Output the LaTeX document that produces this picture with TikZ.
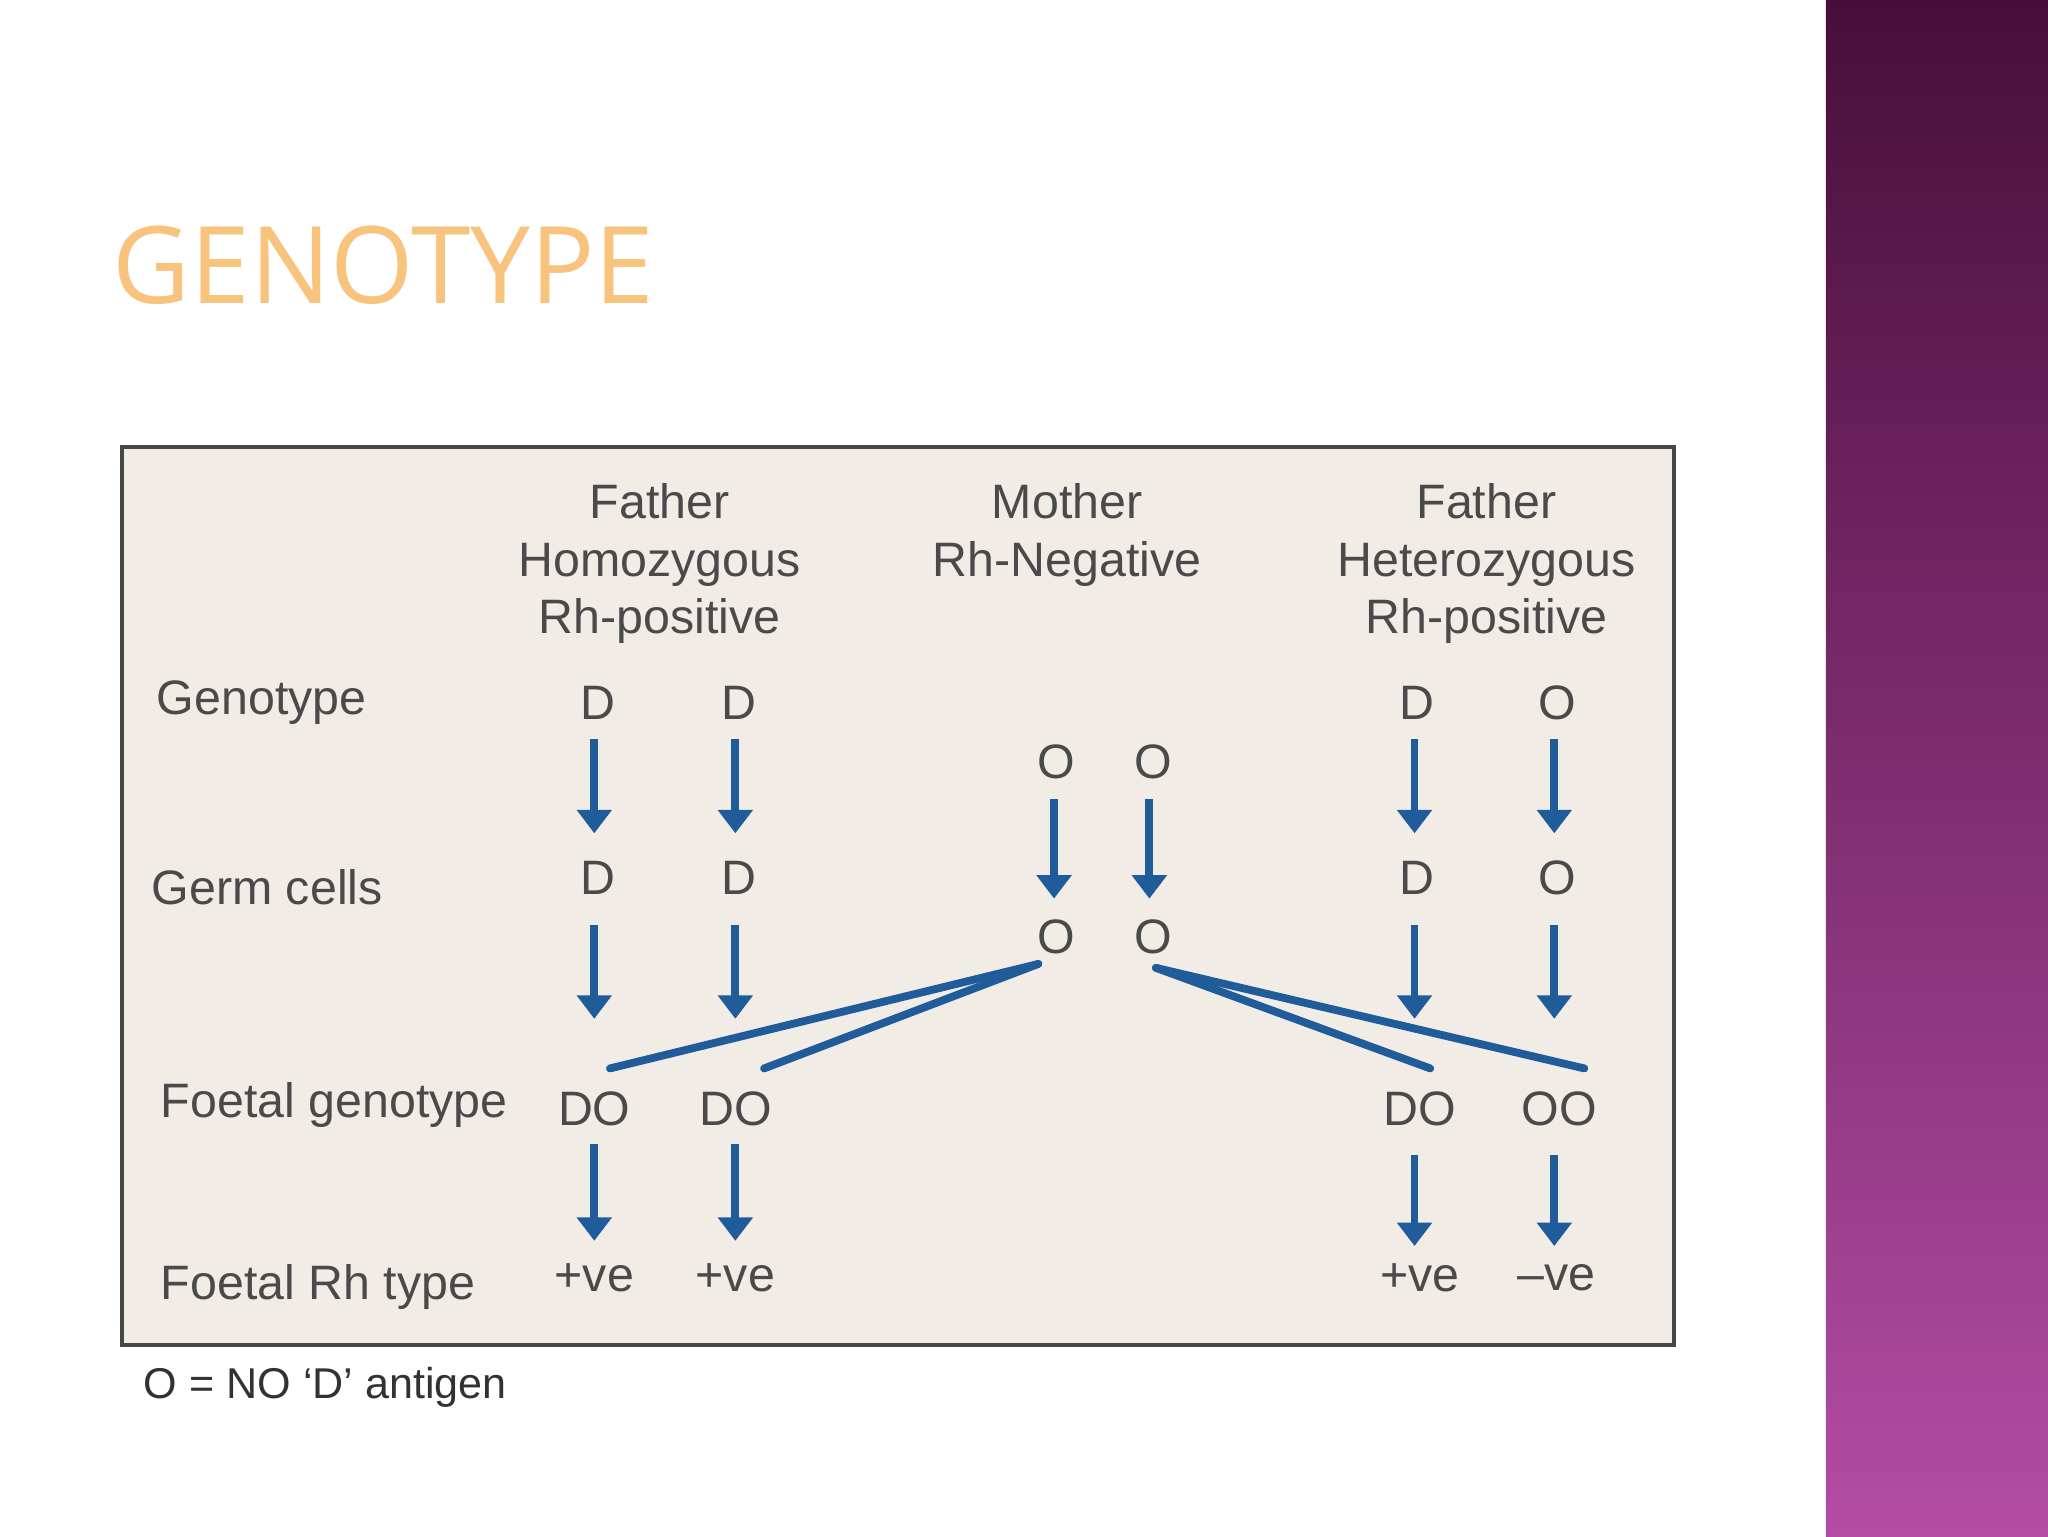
\documentclass[tikz,border=0pt]{standalone}
\usepackage{fontspec}
\setmainfont{Liberation Sans}
\newfontfamily\titlefont{Open Sans}
\usetikzlibrary{arrows.meta}
\definecolor{arr}{HTML}{1F5C99}
\definecolor{txt}{HTML}{4A4A4A}
\definecolor{boxbg}{HTML}{F2ECE7}
\begin{document}
\begin{tikzpicture}[x=1pt,y=-1pt,
  lab/.style={font=\fontsize{37}{44}\selectfont, text=txt, inner sep=0pt},
  down/.style={draw=arr, line width=6pt, -{Triangle[length=18pt,width=26pt]}},
  link/.style={draw=arr, line width=6pt, line cap=round}]
\useasboundingbox (0,0) rectangle (1568,1176);
\fill[white] (0,0) rectangle (1568,1176);
\shade[top color={rgb,255:red,72;green,14;blue,58}, bottom color={rgb,255:red,180;green,76;blue,165}] (1398,0) rectangle (1568,1176);
\node[anchor=west, inner sep=0pt, font=\titlefont\fontsize{82}{90}\selectfont, text={rgb,255:red,247;green,195;blue,125}] (title) at (86,203) {GENOTYPE};
\node[draw={rgb,255:red,70;green,70;blue,70}, line width=3pt, fill=boxbg, minimum width=1188pt, minimum height=687pt, anchor=north west, inner sep=0pt] (box) at (92,341) {};
% headers
\node[lab, align=center, anchor=north] (h1) at (505,370) {Father\\Homozygous\\Rh-positive};
\node[lab, align=center, anchor=north] (h2) at (817,370) {Mother\\Rh-Negative};
\node[lab, align=center, anchor=north] (h3) at (1138,370) {Father\\Heterozygous\\Rh-positive};
% row labels
\node[lab, anchor=west] (r1) at (120,538) {Genotype};
\node[lab, anchor=west] (r2) at (116,679) {Germ cells};
\node[lab, anchor=west] (r3) at (123,846) {Foetal genotype};
\node[lab, anchor=west] (r4) at (123,985) {Foetal Rh type};
% genotype
\node[lab] (g1) at (458,538) {D};
\node[lab] (g2) at (566,538) {D};
\node[lab] (g3) at (809,583) {O};
\node[lab] (g4) at (883,583) {O};
\node[lab] (g5) at (1085,538) {D};
\node[lab] (g6) at (1192,538) {O};
% germ
\node[lab] (c1) at (458,672) {D};
\node[lab] (c2) at (566,672) {D};
\node[lab] (c3) at (809,717) {O};
\node[lab] (c4) at (883,717) {O};
\node[lab] (c5) at (1085,672) {D};
\node[lab] (c6) at (1192,672) {O};
% foetal
\node[lab] (f1) at (455,849) {DO};
\node[lab] (f2) at (563,849) {DO};
\node[lab] (f5) at (1087,849) {DO};
\node[lab] (f6) at (1194,849) {OO};
% Rh
\node[lab] (t1) at (455,978) {+ve};
\node[lab] (t2) at (563,978) {+ve};
\node[lab] (t5) at (1087,978) {+ve};
\node[lab] (t6) at (1192,978) {\symbol{"2013}ve};
% arrows
\foreach \x in {455,563,1083,1190}{
  \draw[down] (\x,566) -- (\x,638);
  \draw[down] (\x,708) -- (\x,780);
}
\draw[down] (807,612) -- (807,688);
\draw[down] (880,612) -- (880,688);
\draw[down] (455,876) -- (455,950);
\draw[down] (563,876) -- (563,950);
\draw[down] (1083,884) -- (1083,954);
\draw[down] (1190,884) -- (1190,954);
% links
\coordinate (m1) at (795,738);
\coordinate (m2) at (885,741);
\coordinate (e1) at (467,818);
\coordinate (e2) at (585,818);
\coordinate (e5) at (1095,818);
\coordinate (e6) at (1213,818);
\draw[link] (m1) -- (e1);
\draw[link] (m1) -- (e2);
\draw[link] (m2) -- (e5);
\draw[link] (m2) -- (e6);
\node[lab, anchor=west, font=\fontsize{33}{40}\selectfont, text={rgb,255:red,50;green,50;blue,50}] (note) at (110,1062) {O = NO `D' antigen};
\end{tikzpicture}
\end{document}
